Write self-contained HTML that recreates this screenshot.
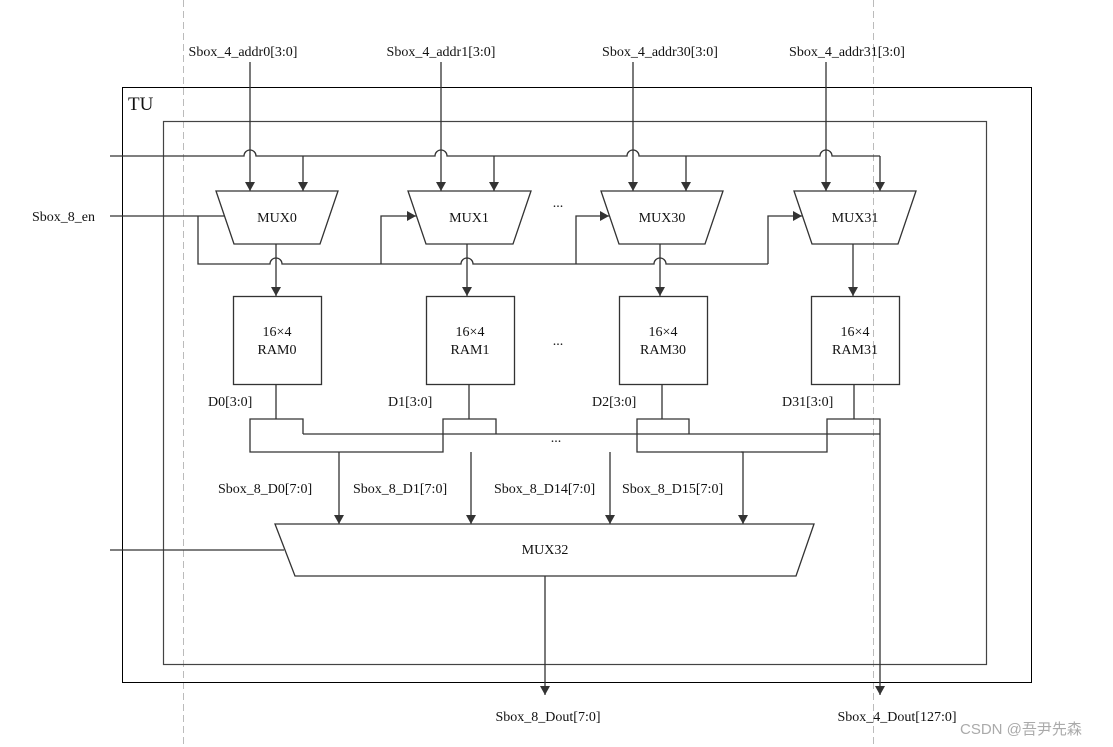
<!DOCTYPE html>
<html><head><meta charset="utf-8"><style>
html,body{margin:0;padding:0;background:#fff;}
svg{display:block;}
text{font-family:"Liberation Serif",serif;font-size:14px;fill:#111;}
</style></head><body>
<svg width="1113" height="747" viewBox="0 0 1113 747" xmlns="http://www.w3.org/2000/svg">
<defs>
<marker id="a" markerWidth="10" markerHeight="10" refX="5" refY="9" orient="0" markerUnits="userSpaceOnUse">
<path d="M0,0 L5,9 L10,0 Z" fill="#333"/>
</marker>
<marker id="ar" markerWidth="10" markerHeight="10" refX="9" refY="5" orient="0" markerUnits="userSpaceOnUse">
<path d="M0,0 L9,5 L0,10 Z" fill="#333"/>
</marker>
</defs>
<g stroke="#bbb" stroke-dasharray="7,4" stroke-width="1">
<line x1="183.5" y1="0" x2="183.5" y2="747"/>
<line x1="873.5" y1="0" x2="873.5" y2="747"/>
</g>
<rect x="122.5" y="87.5" width="909" height="595" fill="none" stroke="#000" stroke-width="1"/>
<text x="128" y="110" style="font-size:19px">TU</text>
<rect x="163.5" y="121.5" width="823" height="543" fill="none" stroke="#444" stroke-width="1.2"/>
<g fill="none" stroke="#333" stroke-width="1.3">
<path d="M110,156 H244 a6,6 0 0 1 12,0 H435 a6,6 0 0 1 12,0 H627 a6,6 0 0 1 12,0 H820 a6,6 0 0 1 12,0 H880"/>
<path d="M250,62 V191" marker-end="url(#a)"/>
<path d="M441,62 V191" marker-end="url(#a)"/>
<path d="M633,62 V191" marker-end="url(#a)"/>
<path d="M826,62 V191" marker-end="url(#a)"/>
<path d="M303,156 V191" marker-end="url(#a)"/>
<path d="M494,156 V191" marker-end="url(#a)"/>
<path d="M686,156 V191" marker-end="url(#a)"/>
<path d="M880,156 V191" marker-end="url(#a)"/>
<path d="M216,191 H338 L320,244 H234 Z"/>
<path d="M408,191 H531 L513,244 H426 Z"/>
<path d="M601,191 H723 L705,244 H619 Z"/>
<path d="M794,191 H916 L898,244 H812 Z"/>
<path d="M110,216 H224"/>
<path d="M198,216 V264 H270 a6,6 0 0 1 12,0 H461 a6,6 0 0 1 12,0 H654 a6,6 0 0 1 12,0 H768"/>
<path d="M381,264 V216 H416" marker-end="url(#ar)"/>
<path d="M576,264 V216 H609" marker-end="url(#ar)"/>
<path d="M768,264 V216 H802" marker-end="url(#ar)"/>
<path d="M276,244 V296" marker-end="url(#a)"/>
<path d="M467,244 V296" marker-end="url(#a)"/>
<path d="M660,244 V296" marker-end="url(#a)"/>
<path d="M853,244 V296" marker-end="url(#a)"/>
<rect x="233.5" y="296.5" width="88" height="88"/>
<rect x="426.5" y="296.5" width="88" height="88"/>
<rect x="619.5" y="296.5" width="88" height="88"/>
<rect x="811.5" y="296.5" width="88" height="88"/>
<path d="M276,384 V419"/><path d="M469,384 V419"/><path d="M662,384 V419"/><path d="M854,384 V419"/>
<path d="M303,434 V419 H250 V452 H443 V419 H496 V434"/>
<path d="M689,434 V419 H637 V452 H827 V419 H880 V434"/>
<path d="M303,434 H880"/>
<path d="M880,434 V695" marker-end="url(#a)"/>
<path d="M339,452 V524" marker-end="url(#a)"/>
<path d="M471,452 V524" marker-end="url(#a)"/>
<path d="M610,452 V524" marker-end="url(#a)"/>
<path d="M741,452 H743 V524" marker-end="url(#a)"/>
<path d="M275,524 H814 L796,576 H295 Z"/>
<path d="M110,550 H284"/>
<path d="M545,576 V695" marker-end="url(#a)"/>
</g>
<g text-anchor="middle">
<text x="243" y="56">Sbox_4_addr0[3:0]</text>
<text x="441" y="56">Sbox_4_addr1[3:0]</text>
<text x="660" y="56">Sbox_4_addr30[3:0]</text>
<text x="847" y="56">Sbox_4_addr31[3:0]</text>
<text x="277" y="222">MUX0</text>
<text x="469" y="222">MUX1</text>
<text x="662" y="222">MUX30</text>
<text x="855" y="222">MUX31</text>
<text x="558" y="207">...</text>
<text x="558" y="345">...</text>
<text x="556" y="442">...</text>
<text x="277" y="336">16×4</text><text x="277" y="354">RAM0</text>
<text x="470" y="336">16×4</text><text x="470" y="354">RAM1</text>
<text x="663" y="336">16×4</text><text x="663" y="354">RAM30</text>
<text x="855" y="336">16×4</text><text x="855" y="354">RAM31</text>
<text x="545" y="554">MUX32</text>
<text x="548" y="721">Sbox_8_Dout[7:0]</text>
<text x="897" y="721">Sbox_4_Dout[127:0]</text>
</g>
<text x="32" y="221">Sbox_8_en</text>
<text x="208" y="406">D0[3:0]</text>
<text x="388" y="406">D1[3:0]</text>
<text x="592" y="406">D2[3:0]</text>
<text x="782" y="406">D31[3:0]</text>
<text x="218" y="493">Sbox_8_D0[7:0]</text>
<text x="353" y="493">Sbox_8_D1[7:0]</text>
<text x="494" y="493">Sbox_8_D14[7:0]</text>
<text x="622" y="493">Sbox_8_D15[7:0]</text>
<text x="960" y="734" style="font-family:'Liberation Sans','Noto Sans CJK SC',sans-serif;font-size:15px;fill:#aaa">CSDN @吾尹先森</text>
</svg>
</body></html>
